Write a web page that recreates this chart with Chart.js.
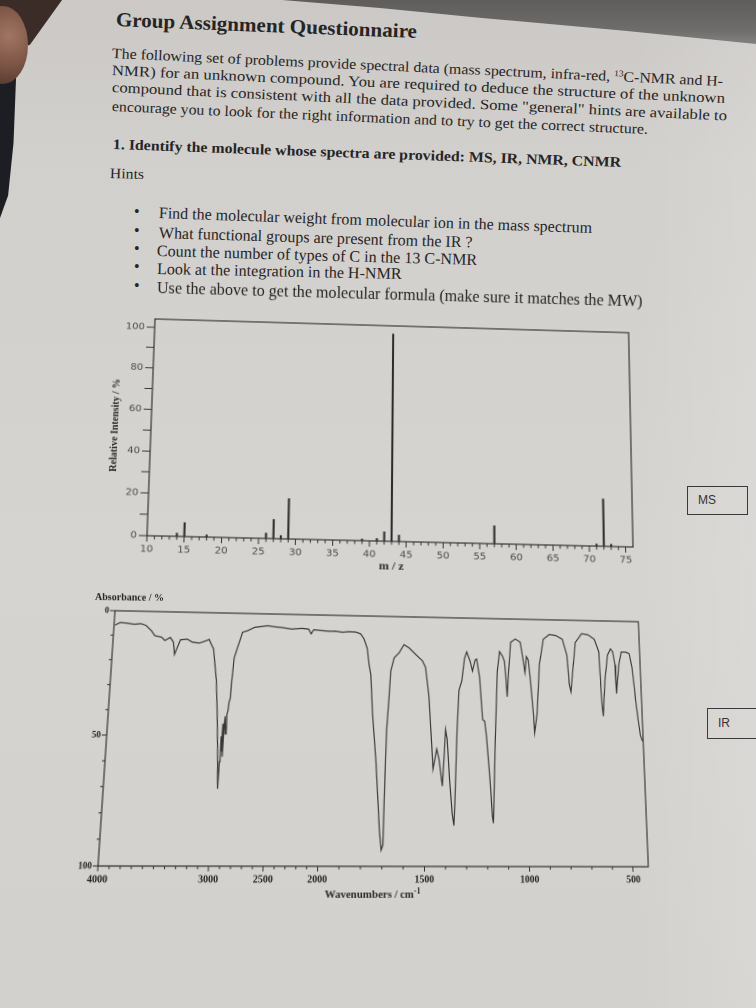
<!DOCTYPE html>
<html>
<head>
<meta charset="utf-8">
<title>Group Assignment Questionnaire</title>
<script src="https://cdn.jsdelivr.net/npm/chart.js@4.4.1/dist/chart.umd.min.js"></script>
<style>
  html, body { margin: 0; padding: 0; }
  body {
    position: relative; width: 756px; height: 1008px; overflow: hidden;
    background: linear-gradient(90deg, rgba(255,255,255,0) 84%, rgba(255,255,255,0.12) 100%),
                linear-gradient(180deg, #cbc8c5 0%, #d2d0cd 16%, #d6d4d1 55%, #d3d1ce 100%);
    font-family: "Liberation Serif", "Times New Roman", serif; color: #262524;
  }
  .ln { position: absolute; white-space: nowrap; line-height: 1; transform-origin: 0 50%; }
  .ln sup { font-size: 0.6em; vertical-align: 0; position: relative; top: -0.55em; line-height: 0; }
  .dot { position: absolute; font-size: 16px; line-height: 1; }
  .plot { position: absolute; left: 0; top: 0; transform-origin: 0 0; }
  .plot canvas { display: block; }
  .irx { position: absolute; white-space: nowrap; font-weight: bold; font-size: 11px; color: #2a2a2a; transform: translate(-50%, -50%); }
  .irx sup { font-size: 0.75em; vertical-align: 0; position: relative; top: -0.5em; }
  .tag { position: absolute; box-sizing: border-box; border: 1px solid #3a3a3a; font-family: "Liberation Sans", Arial, sans-serif; font-size: 12px; color: #333; padding-left: 10px; }
  .shade { position: absolute; left: 0; top: 0; width: 756px; height: 50px;
    background: linear-gradient(180deg, #5f5d5c 0%, #6f6d6b 60%, #8c8a88 100%);
    clip-path: polygon(282px 0, 756px 0, 756px 44px, 627px 31px, 482px 18px, 380px 8px); }
  .hand { position: absolute; left: 0; top: 0; width: 62px; height: 50px; background: #3b2c27;
    clip-path: polygon(0 0, 100% 0, 48% 90%, 0 100%); }
  .finger { position: absolute; left: -22px; top: 6px; width: 50px; height: 78px; border-radius: 50%;
    background: radial-gradient(circle at 62% 38%, #a27563 0%, #7d5645 50%, #4a332b 100%); }
  .sleeve { position: absolute; left: 0; top: 68px; width: 18px; height: 150px; background: #1d1e23;
    clip-path: polygon(0 0, 90% 4%, 75% 50%, 45% 85%, 0 100%); }
</style>
</head>
<body>
<div class="shade"></div>
<div class="hand"></div>
<div class="sleeve"></div>
<div class="finger"></div>

<div class="plot" id="msBox"><canvas id="ms" width="560" height="290"></canvas></div>
<div class="plot" id="irBox"><canvas id="ir" width="600" height="300"></canvas>
  <div class="irx" id="irTitle">Wavenumbers / cm<sup>-1</sup></div>
</div>

<div class="tag" style="left:687px;top:486px;width:61px;height:29px;line-height:27px;">MS</div>
<div class="tag" style="left:707px;top:708px;width:60px;height:31px;line-height:29px;">IR</div>

<script>
// mass spectrum
var msMz  = [14, 15, 18, 26, 27, 28, 29, 39, 41, 42, 43, 44, 57, 71, 72, 73];
var msInt = [1.5, 6.5, 1, 2.5, 9, 1.5, 19, 0.8, 1.2, 4.4, 100, 3, 8.5, 1, 22.5, 1];
var msXTicks = [10, 15, 20, 25, 30, 35, 40, 45, 50, 55, 60, 65, 70, 75];
var msYTicks = [0, 20, 40, 60, 80, 100];

// IR spectrum (wavenumber cm-1, absorbance %)
var irWave = [3990, 3943, 3877, 3812, 3746, 3698, 3642, 3610, 3544, 3512, 3462, 3430, 3414, 3396, 3364, 3300,
  3250, 3184, 3120, 3092, 3070, 3046, 3006, 2984, 2962, 2950, 2944, 2938, 2932, 2926, 2920, 2914, 2908, 2900,
  2892, 2884, 2876, 2868, 2860, 2846, 2820, 2776, 2728, 2662, 2598, 2534, 2468, 2402, 2304, 2206, 2140, 2114,
  2090, 2008, 1971, 1938, 1906, 1873, 1840, 1816, 1800, 1783, 1773, 1764, 1753, 1733, 1713, 1704, 1696, 1692,
  1684, 1674, 1667, 1651, 1627, 1603, 1578, 1546, 1513, 1497, 1480, 1466, 1460, 1451, 1442, 1431, 1415, 1405,
  1399, 1391, 1380, 1368, 1360, 1355, 1343, 1333, 1319, 1305, 1294, 1277, 1266, 1253, 1245, 1231, 1218, 1208,
  1200, 1185, 1175, 1170, 1166, 1155, 1143, 1131, 1116, 1107, 1101, 1096, 1088, 1075, 1051, 1027, 1013, 1006,
  997, 988, 979, 968, 963, 949, 933, 911, 880, 848, 815, 794, 786, 778, 772, 750, 717, 685, 653, 632, 628, 624,
  620, 606, 589, 573, 562, 553, 550, 533, 519, 495, 479, 466, 456, 445, 437, 428];
var irAbs = [5.9, 4.8, 5.0, 5.4, 5.1, 5.8, 8.0, 9.9, 10.5, 11.8, 10.5, 12.4, 17.4, 15.1, 11.4, 11.1,
  12.3, 12.6, 11.6, 11.0, 13.0, 14.9, 27.7, 40.9, 58, 70.5, 60, 50, 56, 45, 58, 46, 42, 49,
  41, 40, 36, 35, 28, 18.4, 14.4, 7.8, 7.1, 5.7, 5.3, 4.9, 5.3, 5.5, 6.1, 5.7, 6.0, 7.9,
  6.2, 6.5, 6.7, 6.6, 7.0, 6.7, 6.8, 7.5, 9.5, 13.5, 20.1, 24.1, 40, 60, 86.6, 93.8, 91.8, 73.2,
  46.6, 33.3, 22.6, 17.2, 15.1, 11.7, 13, 15.6, 18.2, 20.9, 32.8, 52.8, 62.1, 58.1, 54.1, 58.1, 68.8, 55.5,
  46.2, 50.2, 66.2, 79.6, 84.2, 75.6, 46.2, 30.2, 26.2, 16.9, 14.2, 18.1, 22.1, 17.5, 17.1, 24.7, 42.0, 42.6,
  48.6, 65.9, 80.5, 83.2, 72.6, 45.9, 21.9, 13.8, 15.8, 17.8, 24.5, 32.5, 23.2, 9.8, 8.4, 9.7, 17.7, 22.4,
  15.7, 17.1, 25.7, 39.1, 47.1, 39.1, 19, 8.3, 6.2, 6.6, 8.1, 14.8, 26.8, 30.1, 25.4, 9.4, 5.6, 6.0, 7.9, 13.2, 26.6, 35.9,
  39.9, 25.2, 14.5, 11.8, 13.1, 18.5, 30.5, 18.5, 13.1, 13.1, 13.7, 19.7, 31.7, 42.4, 47.8, 50];
var irXTicks = [4000, 3000, 2500, 2000, 1500, 1000, 500];
var irYTicks = [0, 50, 100];

// page text: start/end points of each printed line as seen in the photo
var textLines = [
  { t: 'Group Assignment Questionnaire', x1: 116, y1: 19, x2: 417, y2: 31, fs: 20, b: 1 },
  { t: 'The following set of problems provide spectral data (mass spectrum, infra-red, <sup>13</sup>C-NMR and H-', x1: 112, y1: 53, x2: 723, y2: 81, fs: 14.5 },
  { t: 'NMR) for an unknown compound. You are required to deduce the structure of the unknown', x1: 112, y1: 70.5, x2: 725, y2: 98.5, fs: 14.5 },
  { t: 'compound that is consistent with all the data provided. Some "general" hints are available to', x1: 112, y1: 87.5, x2: 727, y2: 116, fs: 14.5 },
  { t: 'encourage you to look for the right information and to try to get the correct structure.', x1: 112, y1: 106, x2: 648, y2: 129, fs: 14.5 },
  { t: '1. Identify the molecule whose spectra are provided: MS, IR, NMR, CNMR', x1: 113, y1: 144, x2: 621, y2: 162, fs: 14.5, b: 1 },
  { t: 'Hints', x1: 110, y1: 173, x2: 144, y2: 174, fs: 14.5 },
  { t: 'Find the molecular weight from molecular ion in the mass spectrum', x1: 158.5, y1: 213, x2: 591.5, y2: 228, fs: 16 },
  { t: 'What functional groups are present from the IR ?', x1: 158.5, y1: 232.5, x2: 472, y2: 242, fs: 16 },
  { t: 'Count the number of types of C in the 13 C-NMR', x1: 156.5, y1: 251, x2: 476.5, y2: 260, fs: 16 },
  { t: 'Look at the integration in the H-NMR', x1: 156.5, y1: 268.5, x2: 401, y2: 273.5, fs: 16 },
  { t: 'Use the above to get the molecular formula (make sure it matches the MW)', x1: 156.5, y1: 287.5, x2: 642, y2: 301, fs: 16 },
  { t: 'Absorbance / %', x1: 95, y1: 597, x2: 164, y2: 598, fs: 10, b: 1 }
];
var bulletY = [212, 230.5, 248.5, 267, 285.5];

function putLine(o) {
  var d = document.createElement('div');
  d.className = 'ln';
  d.style.fontSize = o.fs + 'px';
  if (o.b) d.style.fontWeight = 'bold';
  d.innerHTML = o.t;
  document.body.appendChild(d);
  var w = d.getBoundingClientRect().width;
  var dx = o.x2 - o.x1, dy = o.y2 - o.y1;
  var len = Math.sqrt(dx * dx + dy * dy);
  d.style.left = o.x1 + 'px';
  d.style.top = (o.y1 - o.fs / 2) + 'px';
  d.style.transform = 'rotate(' + Math.atan2(dy, dx) + 'rad) scaleX(' + (len / w) + ')';
}
textLines.forEach(putLine);
bulletY.forEach(function (y) {
  var d = document.createElement('div');
  d.className = 'dot';
  d.textContent = '\u2022';
  d.style.left = '134px';
  d.style.top = (y - 8) + 'px';
  document.body.appendChild(d);
});

// projective map of the chart box onto the photographed (tilted) sheet
function homography(src, dst) {
  var A = [], b = [], i, r, k;
  for (i = 0; i < 4; i++) {
    var x = src[i][0], y = src[i][1], X = dst[i][0], Y = dst[i][1];
    A.push([x, y, 1, 0, 0, 0, -x * X, -y * X]); b.push(X);
    A.push([0, 0, 0, x, y, 1, -x * Y, -y * Y]); b.push(Y);
  }
  for (var c = 0; c < 8; c++) {
    var p = c;
    for (r = c + 1; r < 8; r++) if (Math.abs(A[r][c]) > Math.abs(A[p][c])) p = r;
    var t = A[c]; A[c] = A[p]; A[p] = t; t = b[c]; b[c] = b[p]; b[p] = t;
    for (r = c + 1; r < 8; r++) {
      var f = A[r][c] / A[c][c];
      for (k = c; k < 8; k++) A[r][k] -= f * A[c][k];
      b[r] -= f * b[c];
    }
  }
  var h = [];
  for (r = 7; r >= 0; r--) {
    var s = b[r];
    for (k = r + 1; k < 8; k++) s -= A[r][k] * h[k];
    h[r] = s / A[r][r];
  }
  return 'matrix3d(' + [h[0], h[3], 0, h[6], h[1], h[4], 0, h[7], 0, 0, 1, 0, h[2], h[5], 0, 1].join(',') + ')';
}
function warp(box, chart, dst) {
  var a = chart.chartArea;
  box.style.transform = homography([[a.left, a.top], [a.right, a.top], [a.right, a.bottom], [a.left, a.bottom]], dst);
}

// frame round the plot + small minor ticks
var framePlugin = {
  id: 'frame',
  afterDraw: function (chart, args, opts) {
    var ctx = chart.ctx, a = chart.chartArea;
    ctx.save();
    ctx.strokeStyle = '#333';
    ctx.lineWidth = 1;
    ctx.beginPath();
    (opts.xMinor || []).forEach(function (v) {
      var px = chart.scales.x.getPixelForValue(v);
      ctx.moveTo(px, a.bottom); ctx.lineTo(px, a.bottom + opts.len);
    });
    (opts.yMinor || []).forEach(function (v) {
      var py = chart.scales.y.getPixelForValue(v);
      ctx.moveTo(a.left, py); ctx.lineTo(a.left - opts.len, py);
    });
    ctx.stroke();
    ctx.lineWidth = 1.2;
    ctx.strokeRect(a.left, a.top, a.right - a.left, a.bottom - a.top);
    ctx.restore();
  }
};

// ---------- MS ----------
var msMinor = [];
for (var m = 11; m < 76; m++) if (m % 5 !== 0) msMinor.push(m);

var msChart = new Chart(document.getElementById('ms'), {
  type: 'bar',
  data: {
    datasets: [{
      data: msMz.map(function (v, i) { return { x: v, y: msInt[i] }; }),
      backgroundColor: '#2c2c2c',
      borderWidth: 0,
      barThickness: 1.4
    }]
  },
  options: {
    responsive: false,
    animation: false,
    devicePixelRatio: 2,
    layout: { padding: { left: 6, top: 14, right: 24, bottom: 4 } },
    plugins: {
      legend: { display: false },
      tooltip: { enabled: false },
      frame: { xMinor: msMinor, len: 3.5 }
    },
    scales: {
      x: {
        type: 'linear', min: 10, max: 76, offset: false,
        afterFit: function (s) { s.height = 44; },
        afterBuildTicks: function (s) { s.ticks = msXTicks.map(function (v) { return { value: v }; }); },
        grid: { drawOnChartArea: false, offset: false, tickLength: 6, color: '#333' },
        border: { color: '#333' },
        ticks: { autoSkip: false, maxRotation: 0, padding: 2, color: '#4a4a4a', font: { family: 'DejaVu Sans', size: 10 } },
        title: { display: true, text: 'm / z', color: '#2a2a2a', padding: { top: 0, bottom: 11 },
                 font: { family: 'Liberation Serif', size: 12, weight: 'bold' } }
      },
      y: {
        min: 0, max: 104,
        afterFit: function (s) { s.width = 46; },
        afterBuildTicks: function (s) {
          var t = [];
          for (var v = 0; v <= 100; v += 10) t.push({ value: v });
          s.ticks = t;
        },
        grid: { drawOnChartArea: false, tickLength: 8, color: '#333' },
        border: { color: '#333' },
        ticks: {
          padding: 2, color: '#4a4a4a', font: { family: 'DejaVu Sans', size: 10 },
          callback: function (v) { return msYTicks.indexOf(v) >= 0 ? v : ''; }
        },
        title: { display: true, text: 'Relative Intensity / %', color: '#2a2a2a', padding: 4,
                 font: { family: 'Liberation Serif', size: 10.5, weight: 'bold' } }
      }
    }
  },
  plugins: [framePlugin]
});
warp(document.getElementById('msBox'), msChart, [[155, 319], [628.6, 332.7], [633, 547], [147, 535.7]]);

// ---------- IR ----------
// wavenumber axis is half-scale above 2000 cm-1
function toU(w) { return w >= 2000 ? (4000 - w) / 2 : 1000 + (2000 - w); }
function fromU(u) { return u <= 1000 ? 4000 - 2 * u : 2000 - (u - 1000); }

var irMinorX = [], irMinorY = [];
for (var w = 3900; w >= 500; w -= 100) if (irXTicks.indexOf(w) < 0) irMinorX.push(toU(w));
for (var a = 10; a < 100; a += 10) if (irYTicks.indexOf(a) < 0) irMinorY.push(a);

var irChart = new Chart(document.getElementById('ir'), {
  type: 'line',
  data: {
    datasets: [{
      data: irWave.map(function (v, i) { return { x: toU(v), y: irAbs[i] }; }),
      borderColor: '#353535',
      borderWidth: 1.2,
      pointRadius: 0,
      tension: 0,
      fill: false
    }]
  },
  options: {
    responsive: false,
    animation: false,
    devicePixelRatio: 2,
    layout: { padding: { left: 4, top: 8, right: 12, bottom: 4 } },
    plugins: {
      legend: { display: false },
      tooltip: { enabled: false },
      frame: { xMinor: irMinorX, yMinor: irMinorY, len: 3 }
    },
    scales: {
      x: {
        type: 'linear', min: 0, max: 2575,
        afterFit: function (s) { s.height = 36; },
        afterBuildTicks: function (s) { s.ticks = irXTicks.map(function (v) { return { value: toU(v) }; }); },
        grid: { drawOnChartArea: false, tickLength: 5, color: '#333' },
        border: { color: '#333' },
        ticks: {
          autoSkip: false, maxRotation: 0, padding: 2, color: '#222',
          font: { family: 'Liberation Serif', size: 10, weight: 'bold' },
          callback: function (v) { return String(Math.round(fromU(v))); }
        }
      },
      y: {
        min: 0, max: 100, reverse: true,
        afterFit: function (s) { s.width = 22; },
        afterBuildTicks: function (s) { s.ticks = irYTicks.map(function (v) { return { value: v }; }); },
        grid: { drawOnChartArea: false, tickLength: 5, color: '#333' },
        border: { color: '#333' },
        ticks: { padding: 1, color: '#222', font: { family: 'Liberation Serif', size: 9, weight: 'bold' } }
      }
    }
  },
  plugins: [framePlugin]
});
var ia = irChart.chartArea;
var irTitle = document.getElementById('irTitle');
irTitle.style.left = ((ia.left + ia.right) / 2 - 6) + 'px';
irTitle.style.top = (ia.bottom + 26) + 'px';
warp(document.getElementById('irBox'), irChart, [[115, 610.7], [638.3, 621.7], [648.3, 866.7], [98, 866]]);
</script>
</body>
</html>
